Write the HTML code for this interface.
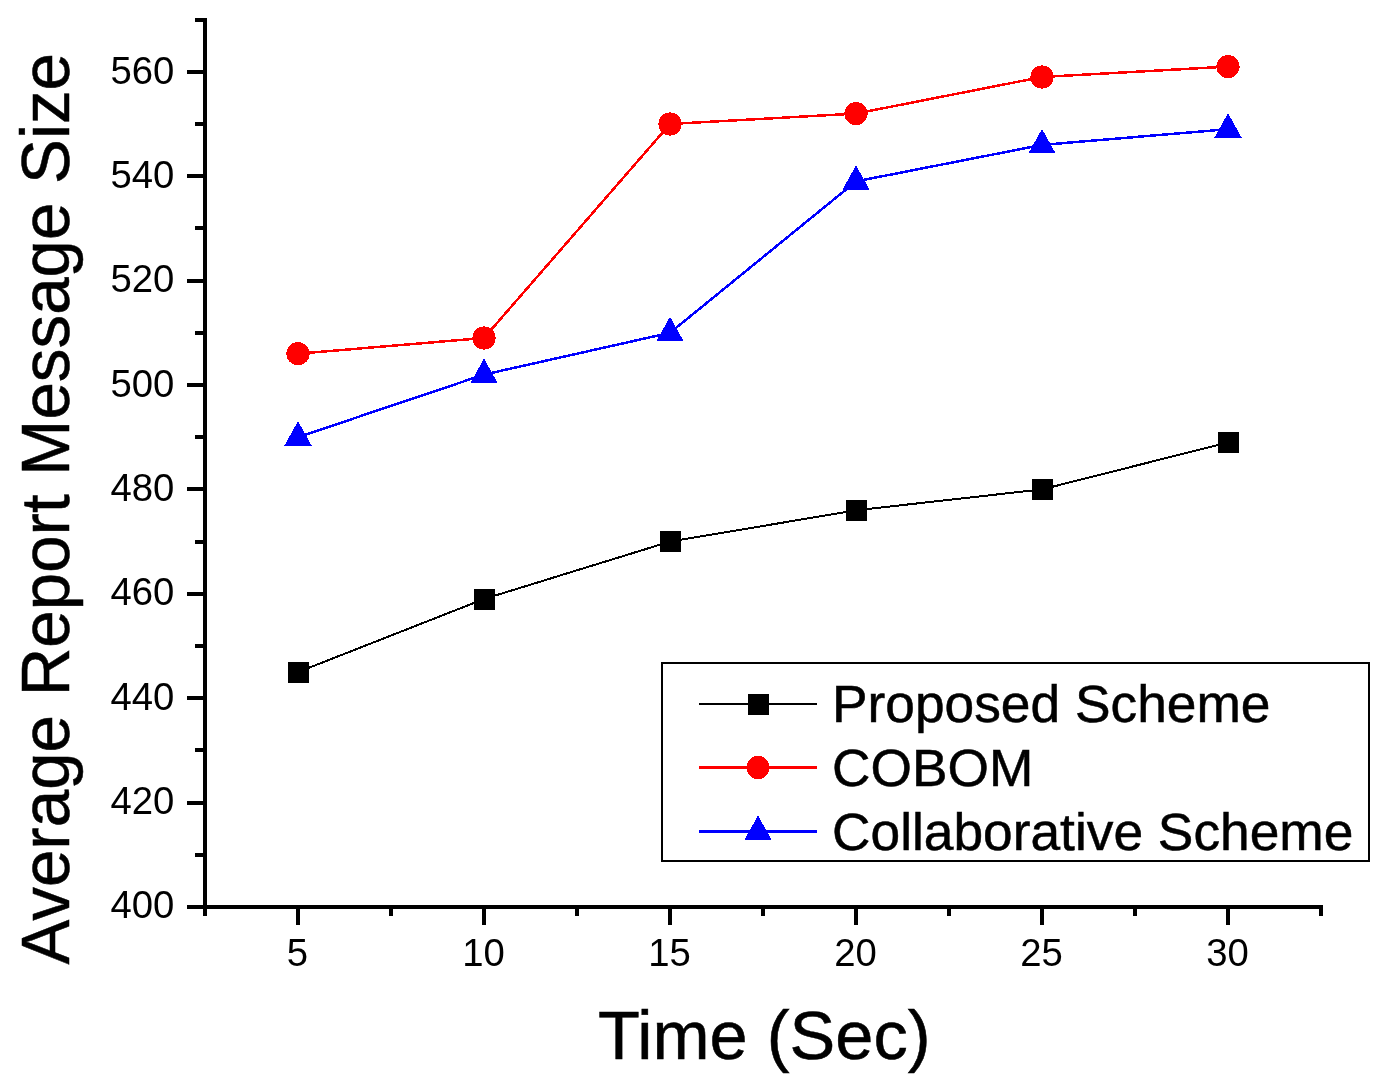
<!DOCTYPE html>
<html><head><meta charset="utf-8"><title>Average Report Message Size vs Time</title>
<style>
html,body{margin:0;padding:0;background:#fff;}
body{width:1389px;height:1092px;overflow:hidden;}
svg{display:block;}
text{font-family:"Liberation Sans",sans-serif;fill:#000;stroke:#000;stroke-width:0.5px;}
text.thin{stroke:none;}
</style></head><body>
<svg width="1389" height="1092" viewBox="0 0 1389 1092">
<rect width="1389" height="1092" fill="#fff"/>
<g stroke="#000" stroke-width="4" shape-rendering="crispEdges"><line x1="205" y1="17.6" x2="205" y2="909.0"/><line x1="187" y1="907.0" x2="1323.0" y2="907.0"/><line x1="195" y1="854.8" x2="205" y2="854.8"/><line x1="187" y1="802.6" x2="205" y2="802.6"/><line x1="195" y1="750.4" x2="205" y2="750.4"/><line x1="187" y1="698.2" x2="205" y2="698.2"/><line x1="195" y1="646.0" x2="205" y2="646.0"/><line x1="187" y1="593.8" x2="205" y2="593.8"/><line x1="195" y1="541.6" x2="205" y2="541.6"/><line x1="187" y1="489.4" x2="205" y2="489.4"/><line x1="195" y1="437.2" x2="205" y2="437.2"/><line x1="187" y1="385.0" x2="205" y2="385.0"/><line x1="195" y1="332.8" x2="205" y2="332.8"/><line x1="187" y1="280.6" x2="205" y2="280.6"/><line x1="195" y1="228.4" x2="205" y2="228.4"/><line x1="187" y1="176.2" x2="205" y2="176.2"/><line x1="195" y1="124.0" x2="205" y2="124.0"/><line x1="187" y1="71.8" x2="205" y2="71.8"/><line x1="195" y1="19.6" x2="205" y2="19.6"/><line x1="205.0" y1="907.0" x2="205.0" y2="916"/><line x1="298.0" y1="907.0" x2="298.0" y2="925"/><line x1="391.0" y1="907.0" x2="391.0" y2="916"/><line x1="484.0" y1="907.0" x2="484.0" y2="925"/><line x1="577.0" y1="907.0" x2="577.0" y2="916"/><line x1="670.0" y1="907.0" x2="670.0" y2="925"/><line x1="763.0" y1="907.0" x2="763.0" y2="916"/><line x1="856.0" y1="907.0" x2="856.0" y2="925"/><line x1="949.0" y1="907.0" x2="949.0" y2="916"/><line x1="1042.0" y1="907.0" x2="1042.0" y2="925"/><line x1="1135.0" y1="907.0" x2="1135.0" y2="916"/><line x1="1228.0" y1="907.0" x2="1228.0" y2="925"/><line x1="1321.0" y1="907.0" x2="1321.0" y2="916"/></g>
<text transform="translate(174.30,918.10) scale(1.0000,1)" font-size="38.3" text-anchor="end" class="thin">400</text><text transform="translate(174.30,813.80) scale(1.0000,1)" font-size="38.3" text-anchor="end" class="thin">420</text><text transform="translate(174.30,709.50) scale(1.0000,1)" font-size="38.3" text-anchor="end" class="thin">440</text><text transform="translate(174.30,605.20) scale(1.0000,1)" font-size="38.3" text-anchor="end" class="thin">460</text><text transform="translate(174.30,500.90) scale(1.0000,1)" font-size="38.3" text-anchor="end" class="thin">480</text><text transform="translate(174.30,396.60) scale(1.0000,1)" font-size="38.3" text-anchor="end" class="thin">500</text><text transform="translate(174.30,292.30) scale(1.0000,1)" font-size="38.3" text-anchor="end" class="thin">520</text><text transform="translate(174.30,188.00) scale(1.0000,1)" font-size="38.3" text-anchor="end" class="thin">540</text><text transform="translate(174.30,83.70) scale(1.0000,1)" font-size="38.3" text-anchor="end" class="thin">560</text>
<text transform="translate(297.50,965.80) scale(1.0000,1)" font-size="38.3" text-anchor="middle" class="thin">5</text><text transform="translate(483.50,965.80) scale(1.0000,1)" font-size="38.3" text-anchor="middle" class="thin">10</text><text transform="translate(669.50,965.80) scale(1.0000,1)" font-size="38.3" text-anchor="middle" class="thin">15</text><text transform="translate(855.50,965.80) scale(1.0000,1)" font-size="38.3" text-anchor="middle" class="thin">20</text><text transform="translate(1041.50,965.80) scale(1.0000,1)" font-size="38.3" text-anchor="middle" class="thin">25</text><text transform="translate(1227.50,965.80) scale(1.0000,1)" font-size="38.3" text-anchor="middle" class="thin">30</text>
<text transform="translate(764.20,1059.00) scale(1.0080,1)" font-size="68.0" text-anchor="middle">Time (Sec)</text>
<text transform="translate(69.00,508.70) rotate(-90) scale(0.9755,1)" font-size="69.0" text-anchor="middle">Average Report Message Size</text>
<polyline points="298.0,672.1 484.0,599.0 670.0,541.6 856.0,510.3 1042.0,489.4 1228.0,442.4" fill="none" stroke="#000" stroke-width="2" shape-rendering="crispEdges"/>
<polyline points="298.0,353.7 484.0,338.0 670.0,124.0 856.0,113.6 1042.0,77.0 1228.0,66.6" fill="none" stroke="#f00" stroke-width="2.5" shape-rendering="crispEdges"/>
<polyline points="298.0,437.2 484.0,374.6 670.0,332.8 856.0,181.4 1042.0,144.9 1228.0,129.2" fill="none" stroke="#00f" stroke-width="2.5" shape-rendering="crispEdges"/>
<rect x="287.5" y="661.6" width="21" height="21" fill="#000" shape-rendering="crispEdges"/><rect x="473.5" y="588.5" width="21" height="21" fill="#000" shape-rendering="crispEdges"/><rect x="659.5" y="531.1" width="21" height="21" fill="#000" shape-rendering="crispEdges"/><rect x="845.5" y="499.8" width="21" height="21" fill="#000" shape-rendering="crispEdges"/><rect x="1031.5" y="478.9" width="21" height="21" fill="#000" shape-rendering="crispEdges"/><rect x="1217.5" y="431.9" width="21" height="21" fill="#000" shape-rendering="crispEdges"/>
<circle cx="298.0" cy="353.7" r="11.6" fill="#f00" shape-rendering="crispEdges"/><circle cx="484.0" cy="338.0" r="11.6" fill="#f00" shape-rendering="crispEdges"/><circle cx="670.0" cy="124.0" r="11.6" fill="#f00" shape-rendering="crispEdges"/><circle cx="856.0" cy="113.6" r="11.6" fill="#f00" shape-rendering="crispEdges"/><circle cx="1042.0" cy="77.0" r="11.6" fill="#f00" shape-rendering="crispEdges"/><circle cx="1228.0" cy="66.6" r="11.6" fill="#f00" shape-rendering="crispEdges"/>
<polygon points="298.0,421.2 284.4,445.6 311.6,445.6" fill="#00f" shape-rendering="crispEdges"/><polygon points="484.0,358.6 470.4,383.0 497.6,383.0" fill="#00f" shape-rendering="crispEdges"/><polygon points="670.0,316.8 656.4,341.2 683.6,341.2" fill="#00f" shape-rendering="crispEdges"/><polygon points="856.0,165.4 842.4,189.8 869.6,189.8" fill="#00f" shape-rendering="crispEdges"/><polygon points="1042.0,128.9 1028.4,153.3 1055.6,153.3" fill="#00f" shape-rendering="crispEdges"/><polygon points="1228.0,113.2 1214.4,137.6 1241.6,137.6" fill="#00f" shape-rendering="crispEdges"/>
<rect x="662" y="663" width="707" height="198" fill="#fff" stroke="#000" stroke-width="2" shape-rendering="crispEdges"/>
<line x1="699" y1="704" x2="817" y2="704" stroke="#000" stroke-width="2" shape-rendering="crispEdges"/><line x1="699" y1="767.5" x2="817" y2="767.5" stroke="#f00" stroke-width="3" shape-rendering="crispEdges"/><line x1="699" y1="831.5" x2="817" y2="831.5" stroke="#00f" stroke-width="3" shape-rendering="crispEdges"/><rect x="747.5" y="693.5" width="21" height="21" fill="#000" shape-rendering="crispEdges"/><circle cx="758.0" cy="767.5" r="11.6" fill="#f00" shape-rendering="crispEdges"/><polygon points="758.0,815.5 744.4,839.9 771.6,839.9" fill="#00f" shape-rendering="crispEdges"/>
<text transform="translate(832.00,722.00) scale(1.0310,1)" font-size="51.7" text-anchor="start">Proposed Scheme</text><text transform="translate(832.00,785.50) scale(1.0310,1)" font-size="51.7" text-anchor="start">COBOM</text><text transform="translate(832.00,849.50) scale(1.0310,1)" font-size="51.7" text-anchor="start">Collaborative Scheme</text>
</svg>
</body></html>
